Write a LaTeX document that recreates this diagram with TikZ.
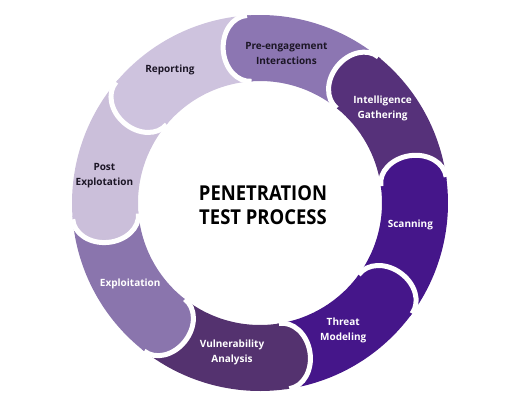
\documentclass[tikz,border=0pt]{standalone}
\usepackage{fontspec}
\setmainfont{Open Sans}
\usepackage{tikz}
\definecolor{lilac}{HTML}{CEC3DE}
\definecolor{lilacb}{HTML}{CBBFDA}
\definecolor{mauve}{HTML}{8C76B2}
\definecolor{mauveb}{HTML}{8A75AD}
\definecolor{plum}{HTML}{56317A}
\definecolor{plumb}{HTML}{54326F}
\definecolor{indigo}{HTML}{45168A}
\definecolor{ink}{HTML}{1C1626}
\tikzstyle{lbl} = [font=\fontsize{10}{14.5}\selectfont\bfseries,align=center]
\tikzstyle{lbldark} = [lbl,text=ink]
\tikzstyle{lbllight} = [lbl,text=white]
\tikzstyle{title} = [font=\fontsize{20.5}{24}\selectfont\bfseries,align=center,text=black,xscale=0.9]
\tikzstyle{gap} = [draw=white,line width=5pt]

\begin{document}
\begin{tikzpicture}[x=1pt,y=1pt]

    \useasboundingbox (-260,-197) rectangle (255,203);

% Draw the ring: bodies first, then the round heads

    \def\ri{122}
    \def\ro{188}
    \def\w{33}
    \def\h{26}
    \def\seg#1#2#3{\fill[#3] (#1:\ri) arc[start angle=#1, end angle=#2, radius=\ri]
        -- (#2:\ro) arc[start angle=#2, end angle=#1, radius=\ro] -- cycle;}
    \def\head#1#2{\begin{scope}[rotate=#1]
        \fill[#2] (\ri,0) arc[start angle=180, end angle=0, x radius=\w, y radius=\h]
            -- (-1:\ro) -- (-1:\ri) -- cycle;
        \draw[gap] (\ri,0) arc[start angle=180, end angle=0, x radius=\w, y radius=\h];
        \end{scope}}
    \seg{94}{51}{mauve}
    \seg{51}{8}{plum}
    \seg{8}{-36}{indigo}
    \seg{-36}{-81}{indigo}
    \seg{-81}{-128}{plumb}
    \seg{-128}{-175}{mauveb}
    \seg{185}{140}{lilacb}
    \seg{140}{94}{lilac}
    \head{94}{mauve}
    \head{51}{plum}
    \head{8}{indigo}
    \head{-36}{indigo}
    \head{-81}{plumb}
    \head{-128}{mauveb}
    \head{-175}{lilacb}
    \head{140}{lilac}

% Labels

    \node[lbldark] at (80:152) (pre) {Pre-engagement\\Interactions};
    \node[lbllight] at (37.7:155) (intel) {Intelligence\\Gathering};
    \node[lbllight] at (-8.3:152) (scan) {Scanning};
    \node[lbllight] at (-56.8:152) (threat) {Threat\\Modeling};
    \node[lbllight] at (-100.6:152) (vuln) {Vulnerability\\Analysis};
    \node[lbllight] at (212:153) (exploit) {Exploitation};
    \node[lbldark] at (170:158) (post) {Post\\Explotation};
    \node[lbldark] at (124:161) (report) {Reporting};

    \node[title] at (3,-2) (head) {PENETRATION\\TEST PROCESS};

\end{tikzpicture}
\end{document}
